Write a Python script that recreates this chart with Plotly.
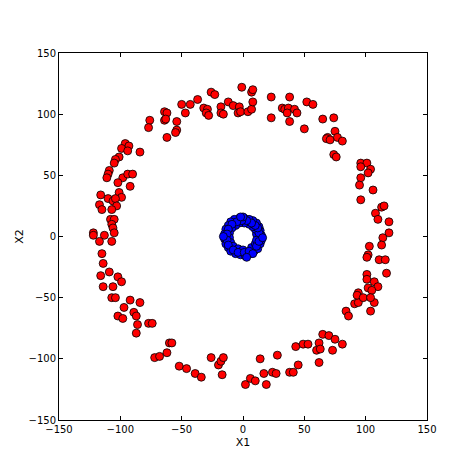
import plotly.graph_objects as go

# Outer ring (red) points
red_x = [-50, -47, -43, -37, -32, -29, -30, -28, -26, -23, -18, -18, -16, -12, -8, -3, -4, -2, -1, 4,
         7, 7, 8, 8, 23, 23, 32, 34, 37, 36, 38, 38, 42, 44, 50, 52,
         -76, -77, -64, -62, -64, -63, -54, -54, -55, -62, -84, -96, -93, -99, -94, -101, -104, -105, -109, -110,
         -111, -98, -94, -90,
         57, 65, 74, 75, 69, 68, 71, 77, 81, 74, 76, 96, 101, 96, 104, 102, 96,
         -102, -92, -101, -99, -116, -110, -106, -104, -117, -103, -115, -107, -108, -105, -107, -106, -105,
         -122, -122, -113, -117, -107, -115, -114, -109, -116, -102, -99, -114, -106, -107, -104, -92, -84,
         -97, -89, -87, -102, -98, -86, -77, -74, -87, -60, -58, -62, -72, -68, -52,
         -46, -39, -34, -26, -20, -18, -16, -17, 2, 6, 10, 14, 17, 19, 24, 27, 28, 38, 41, 45, 43, 49, 53,
         62, 65, 70, 75, 60, 63, 73, 81, 62, 84, 86, 91, 94, 104, 107,
         95, 106, 96, 113, 115, 108, 110, 119, 119, 114, 103, 113, 102, 101, 111, 116, 117, 101, 101, 107,
         110, 102, 105, 94, 93, 98, 104]
red_y = [108, 101, 108, 112, 105, 104, 101, 99, 118, 116, 106, 101, 100, 110, 107, 106, 101, 102, 122, 102,
         104, 118, 120, 110, 114, 97, 105, 104, 105, 101, 114, 94, 104, 101, 88, 110,
         95, 89, 102, 101, 95, 96, 94, 87, 85, 81, 69, 76, 74, 72, 70, 65, 63, 60, 54, 51,
         48, 48, 51, 51,
         108, 96, 97, 86, 81, 80, 79, 81, 78, 67, 65, 60, 60, 57, 55, 52, 48,
         44, 41, 36, 32, 34, 31, 29, 31, 26, 25, 22, 22, 14, 14, 10, 7, 3,
         3, 1, 1, -4, -4, -14, -22, -29, -32, -33, -37, -41, -41, -50, -50, -52, -54,
         -58, -62, -65, -65, -67, -72, -71, -71, -79, -87, -87, -95, -99, -98, -106,
         -108, -112, -115, -99, -105, -102, -99, -113, -121, -116, -118, -100, -112, -121, -111, -112, -97, -111, -111, -105, -90, -88, -88,
         -87, -80, -81, -84, -93, -92, -93, -88, -103, -61, -65, -55, -54, -61, -54,
         42, 38, 30, 24, 25, 19, 14, 12, 3, -1, -8, -7, -15, -17, -19, -19, -30, -31, -35, -37,
         -41, -42, -44, -46, -48, -50, -50]

# Inner ring (blue) points
blue_x = [15, 14, 13, 11, 8, 5, 1, -3, -7, -10, -12, -14, -15, -15, -14, -12, -10, -6, -2, 2, 6, 9, 12, 14, 15,
          11, 10, 8, 5, 1, -3, -6, -9, -11, -11, -10, -8, -4, 0, 7, 10, 11,
          13, 12, 10, 7, 3, -1, -5, -9, -12, -13, -13, -12, -8, -4, 1, 5, 8, 11, 13, 16, -16, 0, 3, -2]
blue_y = [1, 5, 8, 11, 13, 14, 15, 15, 14, 12, 9, 6, 2, -2, -6, -9, -12, -14, -15, -16, -14, -12, -10, -6, -3,
          2, 6, 8, 10, 11, 11, 9, 7, 3, -1, -5, -8, -10, -11, -9, -6, -3,
          3, 7, 9, 11, 13, 13, 12, 10, 6, 2, -3, -7, -11, -13, -13, -12, -14, -8, -4, -1, 0, 16, -17, 16]

tick_vals = [-150, -100, -50, 0, 50, 100, 150]
tick_text = ["\u2212150", "\u2212100", "\u221250", "0", "50", "100", "150"]

fig = go.Figure()
fig.add_trace(go.Scatter(x=red_x, y=red_y, mode="markers",
                         marker=dict(color="#ff0000", size=8, line=dict(color="black", width=0.8)),
                         showlegend=False))
fig.add_trace(go.Scatter(x=blue_x, y=blue_y, mode="markers",
                         marker=dict(color="#0000ff", size=8, line=dict(color="black", width=0.8)),
                         showlegend=False))

axis_common = dict(range=[-150, 150], tickvals=tick_vals, ticktext=tick_text,
                   ticks="inside", ticklen=4, tickcolor="black", tickwidth=1,
                   showline=True, linecolor="black", linewidth=1, mirror="allticks",
                   showgrid=False, zeroline=False,
                   tickfont=dict(family="DejaVu Sans", size=10, color="black"))

fig.update_layout(
    width=474, height=474,
    margin=dict(l=59, r=47, t=53, b=54),
    paper_bgcolor="white", plot_bgcolor="white",
    font=dict(family="DejaVu Sans", size=10, color="black"),
    xaxis=dict(title=dict(text="X1", font=dict(size=11), standoff=4), **axis_common),
    yaxis=dict(title=dict(text="X2", font=dict(size=11), standoff=2), **axis_common),
)

fig.write_html("out.html", config={"displayModeBar": False},
               post_script="document.body.style.margin='0px';")
